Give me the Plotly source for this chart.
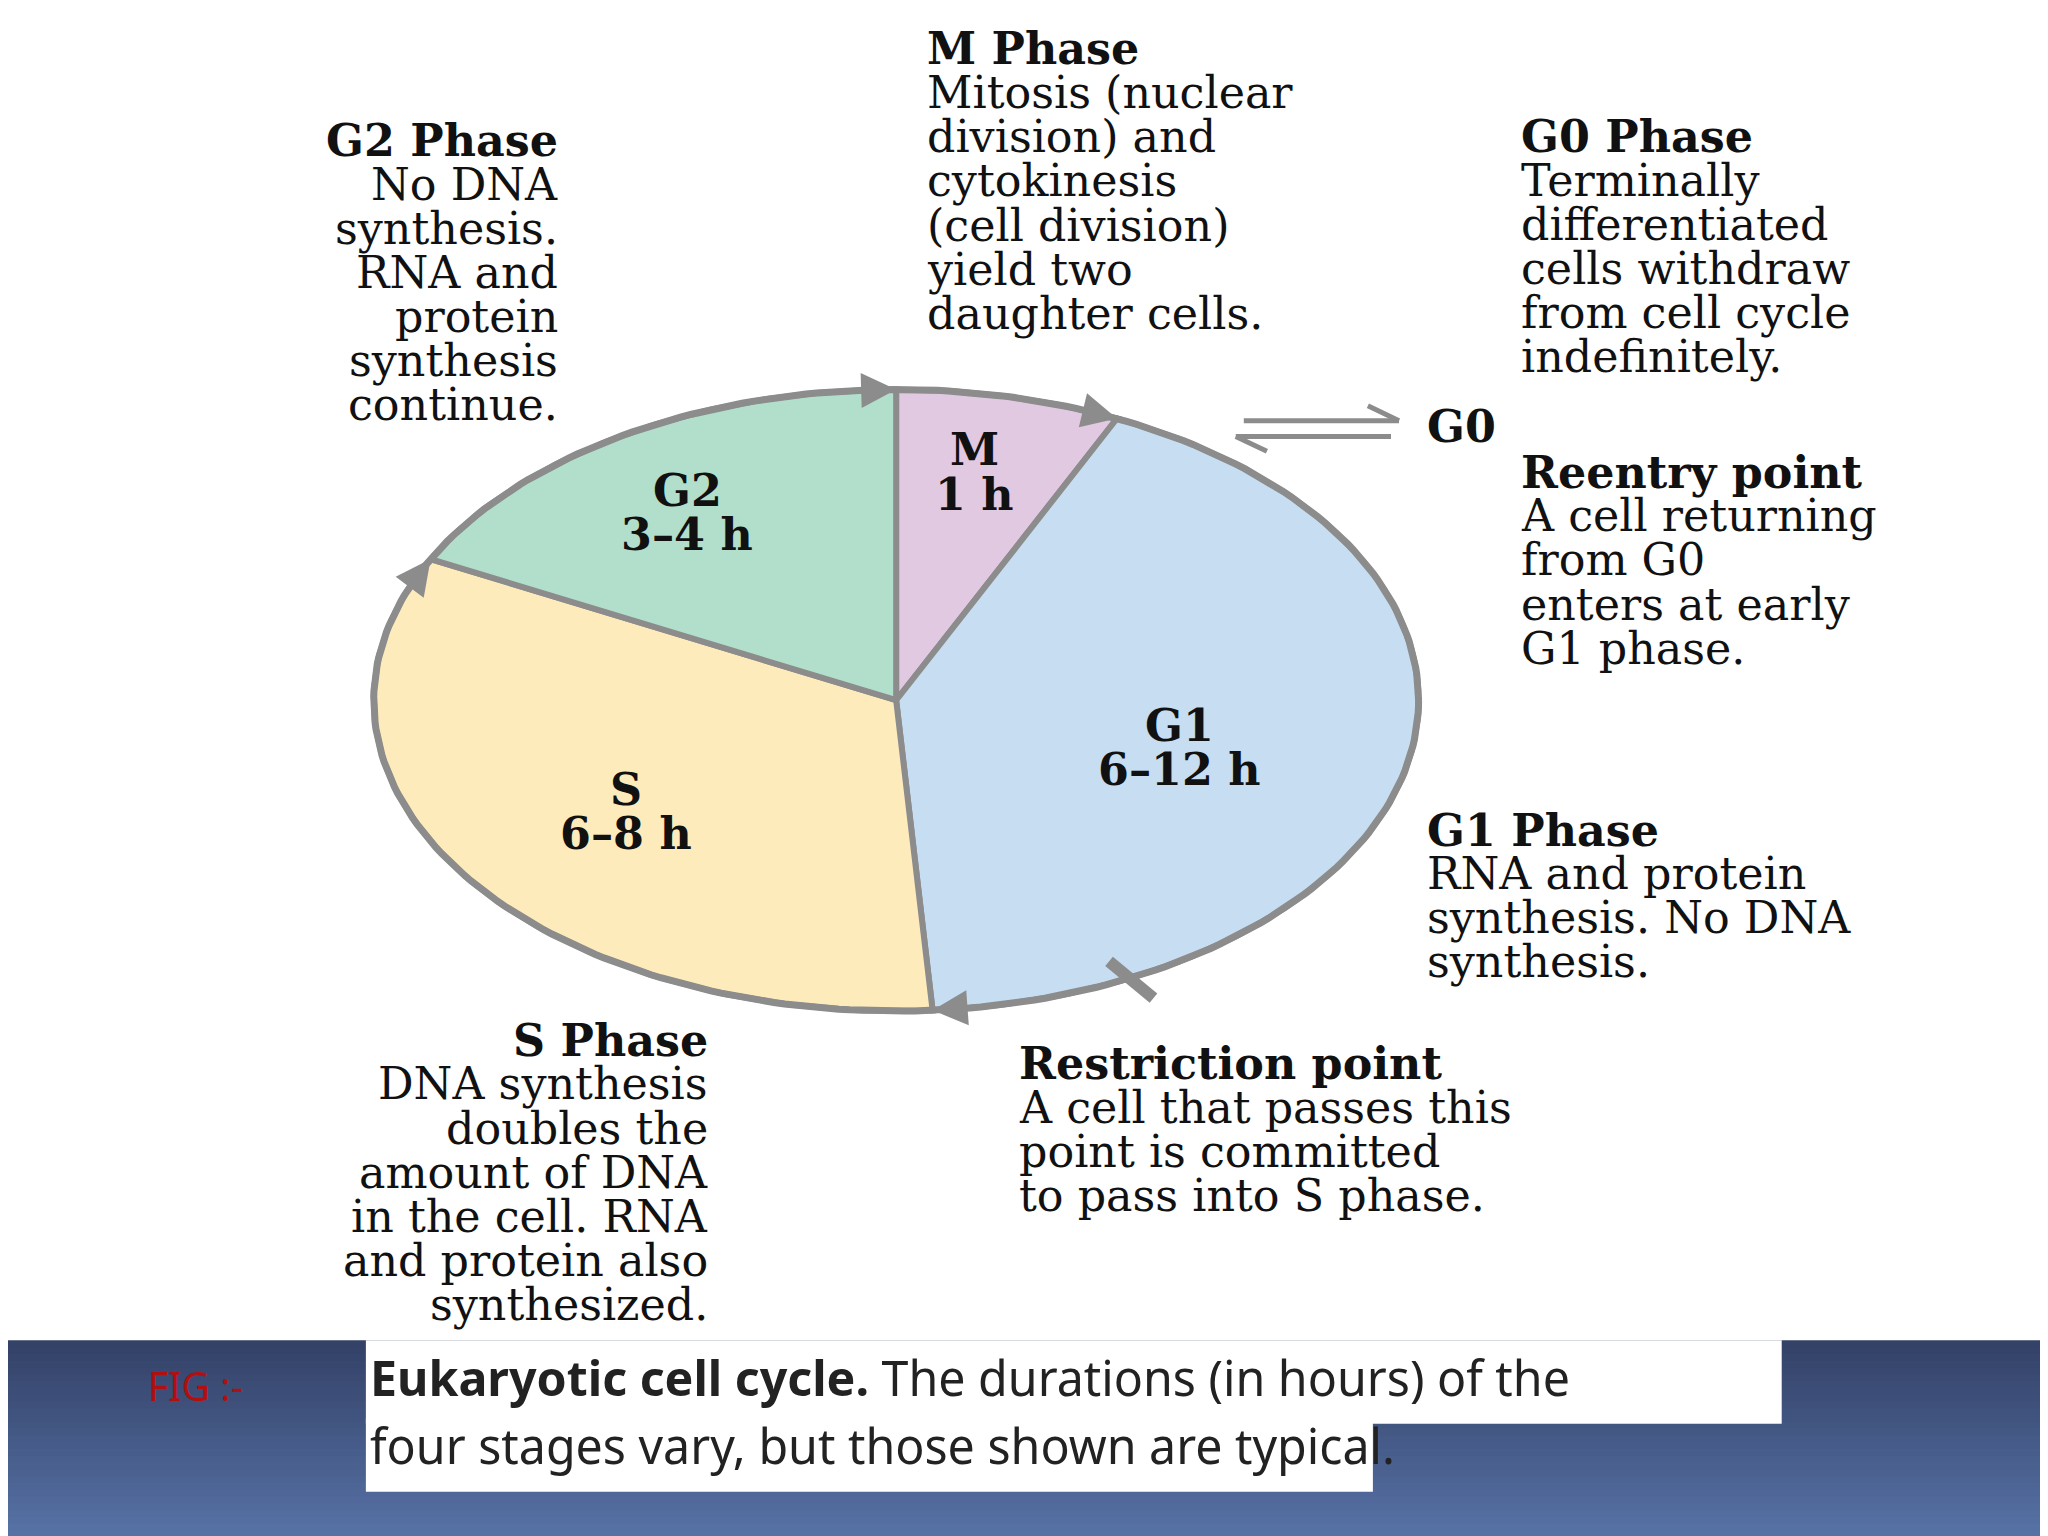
import numpy as np
import plotly.graph_objects as go

# DATA (slice order clockwise from the top of the wheel)
phases = ['M', 'G1', 'S', 'G2']
durations = ['1 h', '6\u201312 h', '6\u20138 h', '3\u20134 h']
share_deg = [25, 151, 121, 63]          # angular share
colors = ['#e2c9e2', '#c6ddf2', '#fdebbc', '#b2dfcb']
label_pos = {'M': (740, 355), 'G1': (897, 566), 'S': (473, 615), 'G2': (520, 386)}

K = 2048 / 1568          # display px -> real px for fonts
CX, CY, RX, RY = 680, 530, 400, 238
SERIF = 'DejaVu Serif'
FS = 34 * K
LH = 33.8                # line spacing in display px

fig = go.Figure()

# background band
band_top, band_bot = 1020, 1176
steps = 30
for i in range(steps):
    t = i / (steps - 1)
    r = int(52 + (88 - 52) * t); g = int(66 + (116 - 66) * t); b = int(104 + (168 - 104) * t)
    y0 = band_top + (band_bot - band_top) * i / steps
    y1 = band_top + (band_bot - band_top) * (i + 1) / steps + 1
    fig.add_shape(type='rect', xref='paper', x0=0, x1=1, y0=y0, y1=y1,
                  fillcolor=f'rgb({r},{g},{b})', line_width=0, layer='below')
fig.add_shape(type='rect', x0=274, x1=1358, y0=1020, y1=1084, fillcolor='white', line_width=0)
fig.add_shape(type='rect', x0=274, x1=1045, y0=1080, y1=1136, fillcolor='white', line_width=0)

# PIE SLICES ON AN ELLIPSE
start = 90.0
for name, deg, col in zip(phases, share_deg, colors):
    a = np.radians(np.linspace(start, start - deg, 80))
    xs = np.concatenate([[CX], CX + RX * np.cos(a), [CX]])
    ys = np.concatenate([[CY], CY - RY * np.sin(a), [CY]])
    fig.add_trace(go.Scatter(x=xs, y=ys, mode='lines', fill='toself', fillcolor=col,
                             line=dict(color='#8c8c8c', width=6), hoverinfo='skip', showlegend=False))
    start -= deg

# outer ring
a = np.radians(np.linspace(0, 360, 300))
fig.add_trace(go.Scatter(x=CX + RX * np.cos(a), y=CY - RY * np.sin(a), mode='lines',
                         line=dict(color='#8c8c8c', width=7), hoverinfo='skip', showlegend=False))

# arrowheads at slice boundaries (clockwise direction)
start = 90.0
for deg in share_deg:
    t = np.radians(start)
    x1, y1 = CX + RX * np.cos(t), CY - RY * np.sin(t)
    t0 = np.radians(start + 6)
    x0, y0 = CX + RX * np.cos(t0), CY - RY * np.sin(t0)
    fig.add_annotation(x=x1, y=y1, ax=x0, ay=y0, axref='x', ayref='y', text='', showarrow=True,
                       arrowhead=2, arrowsize=1.4, arrowwidth=5, arrowcolor='#8c8c8c')
    start -= deg

# restriction point tick
fig.add_shape(type='line', x0=843, y0=730, x1=877, y1=758, line=dict(color='#8c8c8c', width=12))

# G0 exchange arrows
for (x, y, ax, ay) in [(1065, 316, 945, 316), (1065, 316, 1040, 304),
                       (940, 328, 1060, 328), (940, 328, 965, 340)]:
    fig.add_annotation(x=x, y=y, ax=ax, ay=ay, axref='x', ayref='y', text='', showarrow=True,
                       arrowhead=0, arrowwidth=5, arrowcolor='#8c8c8c')

# slice labels
for name, dur in zip(phases, durations):
    x, y = label_pos[name]
    fig.add_annotation(x=x, y=y - 17, text=f'<b>{name}</b>', showarrow=False,
                       font=dict(family=SERIF, size=FS, color='#111'))
    fig.add_annotation(x=x, y=y + 17, text=f'<b>{dur}</b>', showarrow=False,
                       font=dict(family=SERIF, size=FS, color='#111'))


def block(x, y, title, lines, anchor='left'):
    rows = ([f'<b>{title}</b>'] if title else []) + lines
    for i, row in enumerate(rows):
        fig.add_annotation(x=x, y=y + i * LH, text=row, showarrow=False, xanchor=anchor,
                           yanchor='middle', borderpad=0,
                           font=dict(family=SERIF, size=FS, color='#111'))


block(703, 31, 'M Phase', ['Mitosis (nuclear', 'division) and', 'cytokinesis',
                           '(cell division)', 'yield two', 'daughter cells.'])
block(422, 101, 'G2 Phase', ['No DNA', 'synthesis.', 'RNA and', 'protein', 'synthesis', 'continue.'],
      anchor='right')
block(1158, 98, 'G0 Phase', ['Terminally', 'differentiated', 'cells withdraw',
                             'from cell cycle', 'indefinitely.'])
block(1086, 320, 'G0', [])
block(1158, 355, 'Reentry point', ['A cell returning', 'from G0', 'enters at early', 'G1 phase.'])
block(1086, 629, 'G1 Phase', ['RNA and protein', 'synthesis. No DNA', 'synthesis.'])
block(773, 808, 'Restriction point', ['A cell that passes this', 'point is committed',
                                      'to pass into S phase.'])
block(537, 790, 'S Phase', ['DNA synthesis', 'doubles the', 'amount of DNA', 'in the cell. RNA',
                            'and protein also', 'synthesized.'], anchor='right')

# caption
fig.add_annotation(x=106, y=1055, text='FIG :-', showarrow=False, xanchor='left',
                   font=dict(family='Noto Sans', size=30 * K, color='#b01010'))
fig.add_annotation(x=276, y=1048, text='<b>Eukaryotic cell cycle.</b> The durations (in hours) of the',
                   showarrow=False, xanchor='left', font=dict(family='Noto Sans', size=37 * K, color='#222'))
fig.add_annotation(x=276, y=1100, text='four stages vary, but those shown are typical.',
                   showarrow=False, xanchor='left', font=dict(family='Noto Sans', size=37 * K, color='#222'))

fig.update_layout(width=2048, height=1536, margin=dict(l=0, r=0, t=0, b=0),
                  plot_bgcolor='white', paper_bgcolor='white',
                  xaxis=dict(range=[0, 1568], visible=False, fixedrange=True),
                  yaxis=dict(range=[1176, 0], visible=False, fixedrange=True))

fig.write_html('out.html')
